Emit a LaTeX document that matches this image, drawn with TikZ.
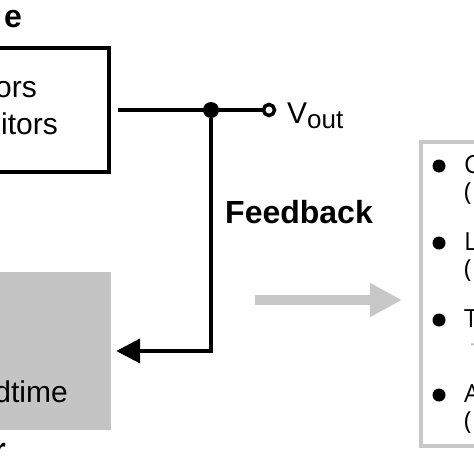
\documentclass[tikz,border=0pt]{standalone}
\usepackage{fontspec}
\setmainfont{Liberation Sans}
\newfontfamily\panelfont{Open Sans}
\usetikzlibrary{arrows.meta}
\definecolor{boxgray}{RGB}{196,196,196}
\definecolor{arrowgray}{RGB}{200,200,200}
\definecolor{framegray}{RGB}{200,200,200}

\begin{document}
\begin{tikzpicture}[
   x=1pt, y=-1pt,
   wire/.style={line width=4pt},
   txt/.style={inner sep=0pt, anchor=base east, font=\fontsize{30}{36}\selectfont},
   bold/.style={inner sep=0pt, font=\fontsize{32}{38}\selectfont\bfseries},
   dot/.style={circle, fill, inner sep=0pt, minimum size=16pt},
   term/.style={circle, draw, fill=white, line width=3.5pt, inner sep=0pt, minimum size=11pt},
   bullet/.style={circle, fill, inner sep=0pt, minimum size=13pt},
   item/.style={inner sep=0pt, anchor=base west, font=\fontsize{25}{30}\panelfont}
]
\useasboundingbox (0,0) rectangle (474,474);

% Source box
\node[draw, wire, minimum width=170pt, minimum height=124pt, inner sep=0pt] (src) at (23.5,110) {};
\node[txt] (r1) at (37,97) {ors};
\node[txt] (r2) at (58,134) {itors};
\node[bold, anchor=base east] (title) at (22,27) {e};

% Output wire
\node[term] (vout) at (269,110) {};
\draw[wire] ([xshift=7pt]src.east) -- (vout);
\node[dot] (j) at (211,110) {};
\node[txt, anchor=base west] (vlbl) at (287,123) {V\raisebox{-5pt}{\fontsize{26}{26}\selectfont out}};

% Deadtime box
\node[fill=boxgray, minimum width=171pt, minimum height=158pt, inner sep=0pt] (dt) at (25.5,351) {};
\node[txt] (d1) at (68,402) {dtime};
\node[bold, anchor=base east] (foot) at (6,460) {r};

% Feedback
\draw[wire, -{Triangle[length=24pt, width=24pt]}] (j) |- ([xshift=5pt]dt.east);
\node[bold, anchor=base west] (fb) at (225,223) {Feedback};

% Gray arrow
\coordinate (ga1) at (255,300);
\coordinate (ga2) at (402,300);
\draw[line width=10pt, arrowgray, -{Triangle[length=32pt, width=32pt]}] (ga1) -- (ga2);

% Result panel
\draw[framegray, line width=4pt] (421,142) rectangle (560,446);
\foreach \y/\a/\b in {173/C/{(}, 250/L/{(}, 327/T/{}, 402/A/{(}} {
   \node[bullet] (b\a) at (439,\y-7) {};
   \node[item] (t\a) at (464,\y) {\a};
   \node[item] (s\a) at (464,\y+27) {\b};
}
\node[item, text=lightgray] (sT2) at (470,351) {-};

\end{tikzpicture}
\end{document}
